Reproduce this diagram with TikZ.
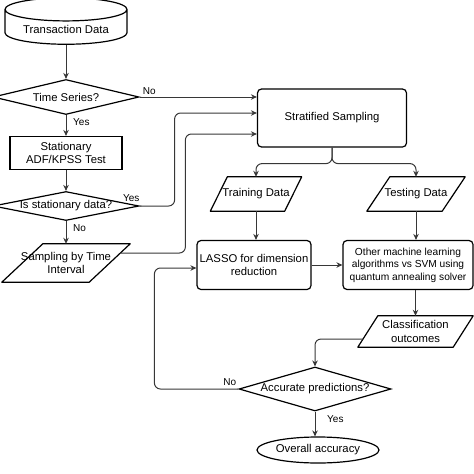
\documentclass[tikz,border=0pt]{standalone}
\usepackage{fontspec}
\setmainfont{Liberation Sans}
\usetikzlibrary{arrows.meta,calc,positioning,shapes.geometric}
\definecolor{LineClr}{RGB}{55,55,55}

\tikzset{
  frame/.style={draw=black,line width=1.2pt},
  stepbox/.style={frame,rectangle,rounded corners=#1,inner sep=2pt,align=center},
  stepbox/.default=4pt,
  ask/.style={frame,diamond,inner sep=0pt,align=center},
  store/.style={frame,cylinder,shape border rotate=90,aspect=0.25,align=center},
  term/.style={frame,ellipse,inner sep=0pt,align=center},
  io/.style={inner sep=0pt,align=center},
  flow/.style={draw=LineClr,line width=1pt,-{Stealth[length=6pt,width=5.5pt]}},
  tag/.style={font=\fontsize{10}{12}\selectfont,inner sep=0pt}
}
\newcommand{\ioframe}[2]{\draw[frame,line join=round] (#1.south west) -- ([xshift=#2]#1.north west) -- (#1.north east) -- ([xshift=-#2]#1.south east) -- cycle;}

\begin{document}
\begin{tikzpicture}[x=1pt,y=-1pt,font=\fontsize{11.3}{13.4}\selectfont]
\useasboundingbox (0,0) rectangle (474,474);

% left column
\node[store,minimum width=122pt,minimum height=43pt] (trans) at (66,29) {Transaction Data};
\node[ask,aspect=4.2,minimum width=146pt,minimum height=35pt] (series) at (66,97) {Time Series?};
\node[stepbox=0pt,minimum width=112pt,minimum height=33pt] (adf) at (66,153) {Stationary\\ADF/KPSS Test};
\node[ask,aspect=5,minimum width=146pt,minimum height=29pt] (statq) at (66,206) {Is stationary data?};
\node[io,minimum width=128pt,minimum height=38pt] (tsamp) at (66,263) {Sampling by Time\\Interval};
\ioframe{tsamp}{41pt}

% right part
\node[stepbox,minimum width=149pt,minimum height=58pt] (strat) at (332,118) {Stratified Sampling};
\node[io,minimum width=91pt,minimum height=34pt] (train) at (256,194) {Training Data};
\ioframe{train}{17pt}
\node[io,minimum width=98pt,minimum height=34pt] (test) at (416,194) {Testing Data};
\ioframe{test}{23pt}
\node[stepbox,minimum width=114pt,minimum height=49pt] (lasso) at (254,265) {LASSO for dimension\\reduction};
\node[stepbox,minimum width=130pt,minimum height=49pt,font=\fontsize{10.2}{12.6}\selectfont] (other) at (408,265) {Other machine learning\\algorithms vs SVM using\\quantum annealing solver};
\node[io,minimum width=115pt,minimum height=31pt] (class) at (415.5,331.5) {Classification\\outcomes};
\ioframe{class}{20pt}
\node[ask,aspect=3.45,minimum width=152pt,minimum height=44pt] (acc) at (315,389) {Accurate predictions?};
\node[term,minimum width=122pt,minimum height=26pt] (overall) at (318,450) {Overall accuracy};

% connectors
\draw[flow] (trans) -- (series);
\draw[flow] (series) -- (adf);
\draw[flow] (adf) -- (statq);
\draw[flow] (statq) -- (tsamp);
\draw[flow] (series.east) -- (series.east -| strat.west);
\draw[flow,rounded corners=6pt] (statq.east) -- ++(35,0) |- ([yshift=5pt]strat.west);
\draw[flow,rounded corners=6pt] ($(tsamp.north east)!0.24!([xshift=-41pt]tsamp.south east)$) -- ++(65,0) |- ([yshift=-16pt]strat.west);
\draw[flow,rounded corners=6pt] (strat.south) -- ++(0,16) -| (train.north);
\draw[flow,rounded corners=6pt] (strat.south) -- ++(0,16) -| (test.north);
\draw[flow] (train.south) -- (train.south |- lasso.north);
\draw[flow] (test.south) -- (test.south |- other.north);
\draw[flow] (lasso.east) -- (lasso.east -| other.west);
\draw[flow] (class.north |- other.south) -- (class.north);
\draw[flow,rounded corners=6pt] ($(class.south west)!0.26!([xshift=20pt]class.north west)$) -| (acc.north);
\draw[flow,rounded corners=6pt] (acc.west) -- ++(-84,0) |- ([yshift=-3pt]lasso.west);
\draw[flow] (acc.south) -- (acc.south |- overall.north);

% branch labels
\node[tag,above right=2pt and 3pt of series.east] {No};
\node[tag,below right=3pt and 7pt of series.south] {Yes};
\node[tag,above left=4pt and 0pt of statq.east] {Yes};
\node[tag,below right=3pt and 7pt of statq.south] {No};
\node[tag,above left=3pt and 2pt of acc.west] {No};
\node[tag,below right=4pt and 12pt of acc.south] {Yes};
\end{tikzpicture}
\end{document}
